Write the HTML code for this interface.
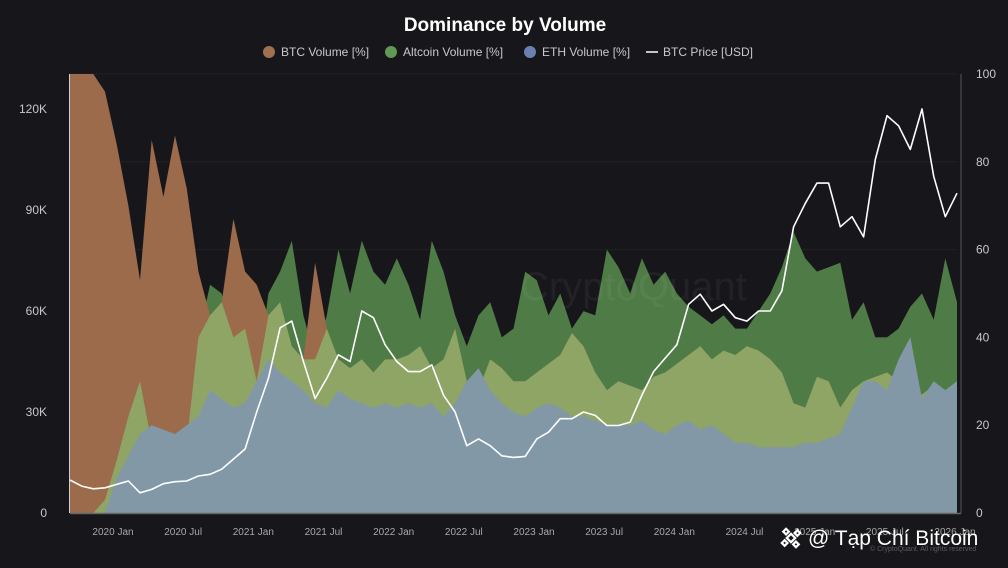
<!DOCTYPE html>
<html><head><meta charset="utf-8">
<style>
html,body{margin:0;padding:0;background:#17171b;}
body{width:1008px;height:563px;overflow:hidden;font-family:"Liberation Sans","Noto Sans CJK SC",sans-serif;}
</style></head>
<body>
<svg id="chart" width="1008" height="563" xmlns="http://www.w3.org/2000/svg">
<rect x="0" y="0" width="1008" height="563" fill="#17171b"/>
<text x="505" y="31" text-anchor="middle" fill="#ffffff" font-size="19" font-weight="bold">Dominance by Volume</text>
<g font-size="12" fill="#c8c8c8">
 <g><circle cx="269" cy="52" r="6" fill="#a0704f"/><text x="281" y="56">BTC Volume [%]</text></g>
 <g><circle cx="391" cy="52" r="6" fill="#5f9a55"/><text x="403" y="56">Altcoin Volume [%]</text></g>
 <g><circle cx="530" cy="52" r="6" fill="#6a80b0"/><text x="542" y="56">ETH Volume [%]</text></g>
 <g><line x1="646" y1="52" x2="658" y2="52" stroke="#fff" stroke-width="1.5"/><text x="663" y="56">BTC Price [USD]</text></g>
</g>
<g id="grid"></g>
<g id="areas"></g>
<g id="axes"></g>
<text x="520" y="300" fill="#ffffff" fill-opacity="0.05" font-size="40">CryptoQuant</text>
<g>
 <g transform="translate(791,538) rotate(45)" fill="none" stroke="#fff" stroke-width="2.2">
  <rect x="-3" y="-3" width="6" height="6"/><rect x="-10" y="-3" width="4" height="4"/><rect x="6" y="-1" width="4" height="4"/><rect x="-1" y="-10" width="4" height="4"/><rect x="-3" y="6" width="4" height="4"/>
 </g>
 <text x="808" y="545" fill="#ffffff" font-size="21">@ Tạp Chí Bitcoin</text>
 <text x="870" y="551" fill="#888" fill-opacity="0.6" font-size="7">© CryptoQuant. All rights reserved</text>
</g>
</svg>
<script>
const btc=[100,100,100,96,84,70,53,85,72,86,74,55,45,48,67,55,52,45,48,38,35,57,42,35,33,35,32,35,35,36,38,33,35,42,30,28,35,33,30,30,32,34,36,41,38,32,28,30,29,28,31,32,34,36,38,35,37,36,38,37,35,32,25,24,31,30,24,28,30,31,32,30,27,27,29,28,28];
const alt=[0,0,0,3,12,22,30,16,17,12,16,40,52,50,40,42,30,50,55,62,45,35,45,60,50,62,55,52,58,52,44,62,55,45,38,45,48,40,42,55,53,45,50,42,46,45,60,56,50,58,52,55,50,47,45,43,45,42,42,46,50,56,64,58,55,56,57,44,48,40,40,42,47,50,44,58,48];
const eth=[0,0,0,0,8,13,18,20,19,18,20,22,28,26,24,25,30,35,32,30,28,25,24,28,26,25,24,25,24,25,24,25,22,25,30,33,28,25,23,22,24,25,24,22,22,21,20,20,20,21,19,18,20,21,19,20,18,16,16,15,15,15,15,16,16,17,18,24,30,30,28,35,40,26,30,28,30];
const price=[9.8,8,7.2,7.5,8.5,9.5,6,7,8.7,9.3,9.5,11,11.5,13,16,19,30,40,55,57,45,34,40,47,45,60,58,50,45,42,42,44,35,30,20,22,20,17,16.5,16.8,22,24,28,28,30,29,26,26,27,35,42,46,50,62,65,60,62,58,57,60,60,66,85,92,98,98,85,88,82,105,118,115,108,120,100,88,95];
const xTickLabels=["2020 Jan","2020 Jul","2021 Jan","2021 Jul","2022 Jan","2022 Jul","2023 Jan","2023 Jul","2024 Jan","2024 Jul","2025 Jan","2025 Jul","2026 Jan"];
const leftTicks=[0,30,60,90,120];
const rightTicks=[0,20,40,60,80,100];

const NS="http://www.w3.org/2000/svg";
const X0=70,X1=957,Y0=513,YT=74;
const n=btc.length;
const xs=i=>X0+i*(X1-X0)/(n-1);
const yPct=v=>Y0-v*(Y0-YT)/100;
const yPrice=k=>Y0-k*(Y0-109)/120;
// month index: 2020 Jan at 113, 2026 Jan at 955
const xMonth=m=>113+m*(955-113)/72;

function mk(tag,attrs,parent){const e=document.createElementNS(NS,tag);for(const k in attrs)e.setAttribute(k,attrs[k]);parent.appendChild(e);return e;}
function areaPath(vals){let d="M"+xs(0)+","+Y0;vals.forEach((v,i)=>{d+=" L"+xs(i).toFixed(1)+","+yPct(v).toFixed(1);});d+=" L"+xs(n-1)+","+Y0+" Z";return d;}

const areas=document.getElementById('areas');
const pAlt=mk('path',{d:areaPath(alt),fill:'#4f7b46'},areas);


const pBtc=mk('path',{d:areaPath(btc),fill:'#9b6b4b'},areas);


const overlap=btc.map((b,i)=>Math.min(b,alt[i]));
const pOv=mk('path',{d:areaPath(overlap),fill:'#8ea566'},areas);


const pEth=mk('path',{d:areaPath(eth),fill:'#8298a7'},areas);


let dl="";price.forEach((p,i)=>{dl+=(i?" L":"M")+xs(i).toFixed(1)+","+yPrice(p).toFixed(1);});
const pl=mk('path',{d:dl,fill:'none',stroke:'#ffffff','stroke-width':1.6,'stroke-linejoin':'round'},areas);



const axes=document.getElementById('axes');
const grid=document.getElementById('grid');
rightTicks.forEach(t=>{
  const g=mk('line',{x1:X0,x2:X1,y1:yPct(t),y2:yPct(t),stroke:'#ffffff','stroke-opacity':0.05},grid);
  
  
  const tx=mk('text',{x:976,y:yPct(t)+4,fill:'#c8c8c8','font-size':12,'text-anchor':'start'},axes);
  tx.textContent=t;
  
  
});
leftTicks.forEach(t=>{
  const tx=mk('text',{x:47,y:yPrice(t)+4,fill:'#c8c8c8','font-size':12,'text-anchor':'end'},axes);
  tx.textContent=t===0?"0":t+"K";
  
  
});
xTickLabels.forEach((l,i)=>{
  const tx=mk('text',{x:xMonth(i*6),y:535,fill:'#a8a8a8','font-size':10,'text-anchor':'middle'},axes);
  tx.textContent=l;
  
  
});
const la=mk('line',{x1:X0-0.5,x2:X0-0.5,y1:YT,y2:Y0,stroke:'#cfcfcf','stroke-width':1},axes);


const ra=mk('line',{x1:961,x2:961,y1:YT,y2:Y0,stroke:'#555','stroke-width':1},axes);


const ba=mk('line',{x1:X0,x2:961,y1:Y0+0.5,y2:Y0+0.5,stroke:'#666','stroke-width':1.5},axes);


</script>
</body></html>
